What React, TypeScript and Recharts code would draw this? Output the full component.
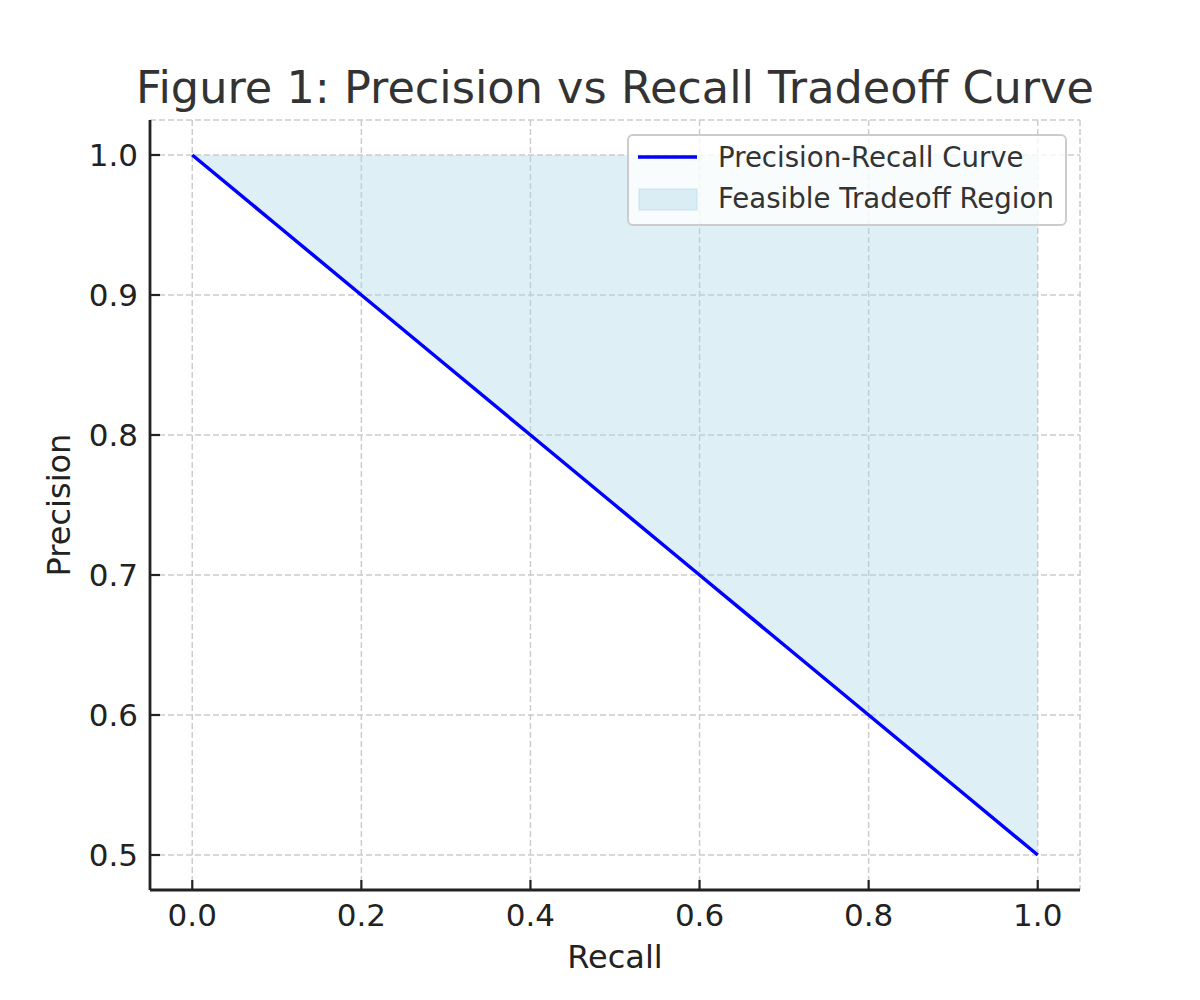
import React from 'react';
import { ComposedChart, Line, Area, XAxis, YAxis, CartesianGrid } from 'recharts';

const recall = [0, 0.1, 0.2, 0.3, 0.4, 0.5, 0.6, 0.7, 0.8, 0.9, 1.0];
const precision = [1.0, 0.95, 0.9, 0.85, 0.8, 0.75, 0.7, 0.65, 0.6, 0.55, 0.5];
const regionUpper = [1.0, 1.0, 1.0, 1.0, 1.0, 1.0, 1.0, 1.0, 1.0, 1.0, 1.0];
const xTicks = [0, 0.2, 0.4, 0.6, 0.8, 1.0];
const yTicks = [0.5, 0.6, 0.7, 0.8, 0.9, 1.0];

const title = 'Figure 1: Precision vs Recall Tradeoff Curve';
const xLabel = 'Recall';
const yLabel = 'Precision';
const legendLine = 'Precision-Recall Curve';
const legendArea = 'Feasible Tradeoff Region';

const data = recall.map((r, i) => ({
  recall: r,
  precision: precision[i],
  region: [precision[i], regionUpper[i]],
}));

const W = 1200;
const H = 1000;
const PL = 150;
const PR = 1080;
const PT = 120;
const PB = 890;
const FONT = 'DejaVu Sans, sans-serif';

const XTick = (props: any) => {
  const { x, payload } = props;
  return (
    <g>
      <line x1={x} x2={x} y1={PB} y2={PB - 10} stroke="#222" strokeWidth={2.2} />
      <text x={x} y={PB + 36} textAnchor="middle" fontSize={31} fontFamily={FONT} fill="#222">
        {Number(payload.value).toFixed(1)}
      </text>
    </g>
  );
};

const YTick = (props: any) => {
  const { y, payload } = props;
  return (
    <g>
      <line x1={PL} x2={PL + 10} y1={y} y2={y} stroke="#222" strokeWidth={2.2} />
      <text x={PL - 12} y={y + 11} textAnchor="end" fontSize={31} fontFamily={FONT} fill="#222">
        {Number(payload.value).toFixed(1)}
      </text>
    </g>
  );
};

export default function App() {
  return (
    <div style={{ position: 'absolute', left: 0, top: 0, width: W, height: H, background: '#fff' }}>
      <ComposedChart
        width={W}
        height={H}
        data={data}
        margin={{ top: PT, right: W - PR, bottom: 50, left: 90 }}
      >
        <CartesianGrid
          stroke="#cccccc"
          strokeWidth={1.5}
          strokeDasharray="6 3"
          vertical
          horizontal
        />
        <XAxis
          dataKey="recall"
          type="number"
          domain={[-0.05, 1.05]}
          ticks={xTicks}
          allowDataOverflow
          height={H - PB - 50}
          tickLine={false}
          tickSize={0}
          tickMargin={0}
          axisLine={{ stroke: '#222', strokeWidth: 2.8 }}
          tick={<XTick />}
          interval={0}
        />
        <YAxis
          type="number"
          domain={[0.475, 1.025]}
          ticks={yTicks}
          allowDataOverflow
          width={PL - 90}
          tickLine={false}
          tickSize={0}
          tickMargin={0}
          axisLine={{ stroke: '#222', strokeWidth: 2.8 }}
          tick={<YTick />}
          interval={0}
        />
        <Area
          dataKey="region"
          type="linear"
          fill="#add8e6"
          fillOpacity={0.4}
          stroke="none"
          isAnimationActive={false}
          dot={false}
          activeDot={false}
        />
        <Line
          dataKey="precision"
          type="linear"
          stroke="#0000ff"
          strokeWidth={3.5}
          dot={false}
          activeDot={false}
          isAnimationActive={false}
        />
      </ComposedChart>
      <svg
        width={W}
        height={H}
        style={{ position: 'absolute', left: 0, top: 0, pointerEvents: 'none' }}
      >
        <text x={(PL + PR) / 2} y={103} textAnchor="middle" fontSize={44.6} fontFamily={FONT} fill="#333">
          {title}
        </text>
        <text x={(PL + PR) / 2} y={968} textAnchor="middle" fontSize={32} fontFamily={FONT} fill="#222">
          {xLabel}
        </text>
        <text
          x={70}
          y={(PT + PB) / 2}
          textAnchor="middle"
          fontSize={32}
          fontFamily={FONT}
          fill="#222"
          transform={`rotate(-90 70 ${(PT + PB) / 2})`}
        >
          {yLabel}
        </text>
        <g>
          <rect x={628} y={135} width={438} height={90} rx={5} ry={5} fill="#ffffff" fillOpacity={0.8} stroke="#cccccc" strokeWidth={2} />
          <line x1={638} x2={697} y1={157} y2={157} stroke="#0000ff" strokeWidth={3.5} />
          <text x={718} y={167} fontSize={27.6} fontFamily={FONT} fill="#333">{legendLine}</text>
          <rect x={639} y={189} width={58} height={21} fill="#add8e6" fillOpacity={0.4} stroke="#add8e6" strokeOpacity={0.4} strokeWidth={1.5} />
          <text x={718} y={208} fontSize={27.6} fontFamily={FONT} fill="#333">{legendArea}</text>
        </g>
      </svg>
    </div>
  );
}
